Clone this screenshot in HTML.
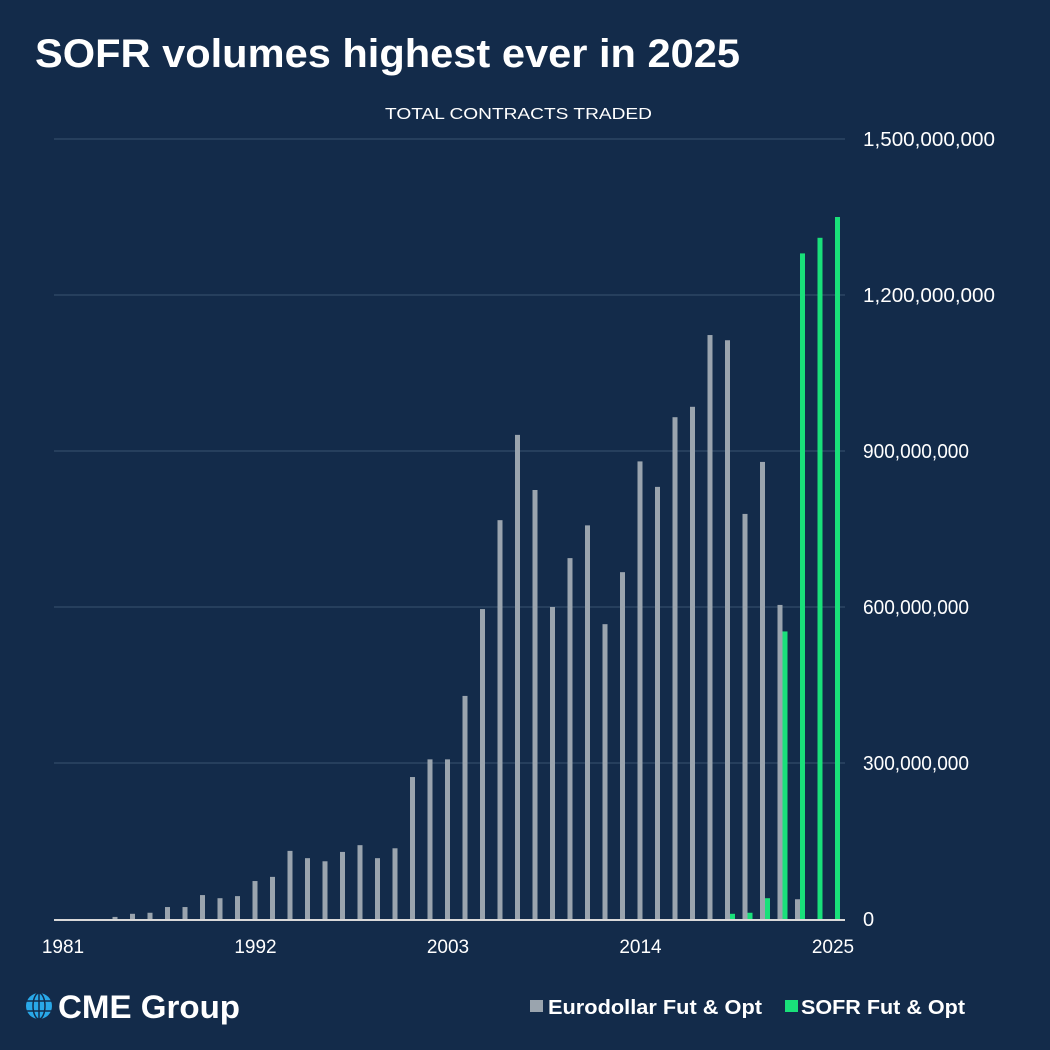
<!DOCTYPE html>
<html><head><meta charset="utf-8"><style>
html,body{margin:0;padding:0;background:#132b4a;}
svg{display:block;font-family:"Liberation Sans",Arial,sans-serif;}
</style></head><body>
<svg id="chart" width="1050" height="1050" viewBox="0 0 1050 1050">
<rect x="0" y="0" width="1050" height="1050" fill="#132b4a"/>
<text x="35" y="67" font-size="40" font-weight="bold" fill="#ffffff" textLength="705" lengthAdjust="spacingAndGlyphs">SOFR volumes highest ever in 2025</text>
<text x="385" y="119" font-size="16" fill="#ffffff" textLength="267" lengthAdjust="spacingAndGlyphs">TOTAL CONTRACTS TRADED</text>
<g id="grid"></g>
<g id="bars"></g>
<g id="axes"></g>
<g>
  <circle cx="39" cy="1006" r="13" fill="#29a8e8"/>
  <g stroke="#132b4a" stroke-width="1.5" fill="none">
    <line x1="26" y1="1001" x2="52" y2="1001"/><line x1="26" y1="1011" x2="52" y2="1011"/>
    <line x1="39" y1="993" x2="39" y2="1019"/>
    <ellipse cx="39" cy="1006" rx="6" ry="13"/>
  </g>
  <text x="58" y="1018" font-size="32" font-weight="600" fill="#ffffff" textLength="182" lengthAdjust="spacingAndGlyphs">CME Group</text>
</g>
<g>
  <rect x="530" y="1000" width="13" height="12" fill="#9aa4ae"/>
  <text x="548" y="1014" font-size="20" font-weight="bold" fill="#ffffff" textLength="214" lengthAdjust="spacingAndGlyphs">Eurodollar Fut &amp; Opt</text>
  <rect x="785" y="1000" width="13" height="12" fill="#19e07a"/>
  <text x="801" y="1014" font-size="20" font-weight="bold" fill="#ffffff" textLength="164" lengthAdjust="spacingAndGlyphs">SOFR Fut &amp; Opt</text>
</g>
</svg>
<script>
const years = [];
for (let y = 1981; y <= 2025; y++) years.push(y);
const xLabels = [1981, 1992, 2003, 2014, 2025];
const yTicks = [0, 300, 600, 900, 1200, 1500];
const yTickLabels = ["0", "300,000,000", "600,000,000", "900,000,000", "1,200,000,000", "1,500,000,000"];
// millions of contracts
const eurodollar = [0,0,0,4,10,12,23,23,46,40,44,73,81,131,117,111,129,142,117,136,273,307,307,429,596,767,931,825,600,694,757,567,667,880,831,965,985,1123,1113,779,879,604,38,0,0];
const sofr = [0,0,0,0,0,0,0,0,0,0,0,0,0,0,0,0,0,0,0,0,0,0,0,0,0,0,0,0,0,0,0,0,0,0,0,0,0,0,10,12,40,553,1280,1310,1350];

const NS = "http://www.w3.org/2000/svg";
const x0 = 65, step = 17.5, yBase = 919, pxPerM = 780 / 1500;
function xScale(i) { return x0 + i * step; }
function yScale(v) { return yBase - v * pxPerM; }
function mk(tag, attrs, parent) {
  const e = document.createElementNS(NS, tag);
  for (const k in attrs) e.setAttribute(k, attrs[k]);
  parent.appendChild(e);
  return e;
}
const grid = document.getElementById('grid');
const bars = document.getElementById('bars');
const axes = document.getElementById('axes');

yTicks.forEach((t, i) => {
  if (t > 0) {
    const l = mk('line', {x1: 54, x2: 845, y1: yScale(t), y2: yScale(t), stroke: '#3a5370', 'stroke-width': 1}, grid);
    
    
  }
  const attrs = {x: 863, y: yScale(t) + 7, 'font-size': 20, fill: '#ffffff'};
  const lbl = yTickLabels[i];
  if (lbl.length > 1) { attrs.textLength = (lbl.length === 13 ? 132 : 106); attrs.lengthAdjust = 'spacingAndGlyphs'; }
  const tx = mk('text', attrs, axes);
  tx.textContent = lbl;
  
  
});

years.forEach((yr, i) => {
  const c = xScale(i);
  if (eurodollar[i] > 0) {
    const r = mk('rect', {x: c - 5, y: yScale(eurodollar[i]), width: 5, height: eurodollar[i] * pxPerM, fill: '#9aa4ae'}, bars);
    
    
  }
  if (sofr[i] > 0) {
    const r = mk('rect', {x: c, y: yScale(sofr[i]), width: 5, height: sofr[i] * pxPerM, fill: '#19e07a'}, bars);
    
    
  }
});

const ax = mk('line', {x1: 54, x2: 845, y1: 920, y2: 920, stroke: '#d9d9d9', 'stroke-width': 2}, axes);



xLabels.forEach(yr => {
  const i = years.indexOf(yr);
  const cx = xScale(i) - 2;
  const t = mk('text', {x: cx, y: 953, 'font-size': 19, fill: '#ffffff', 'text-anchor': 'middle'}, axes);
  t.textContent = String(yr);
  
  
});
</script>
</body></html>
